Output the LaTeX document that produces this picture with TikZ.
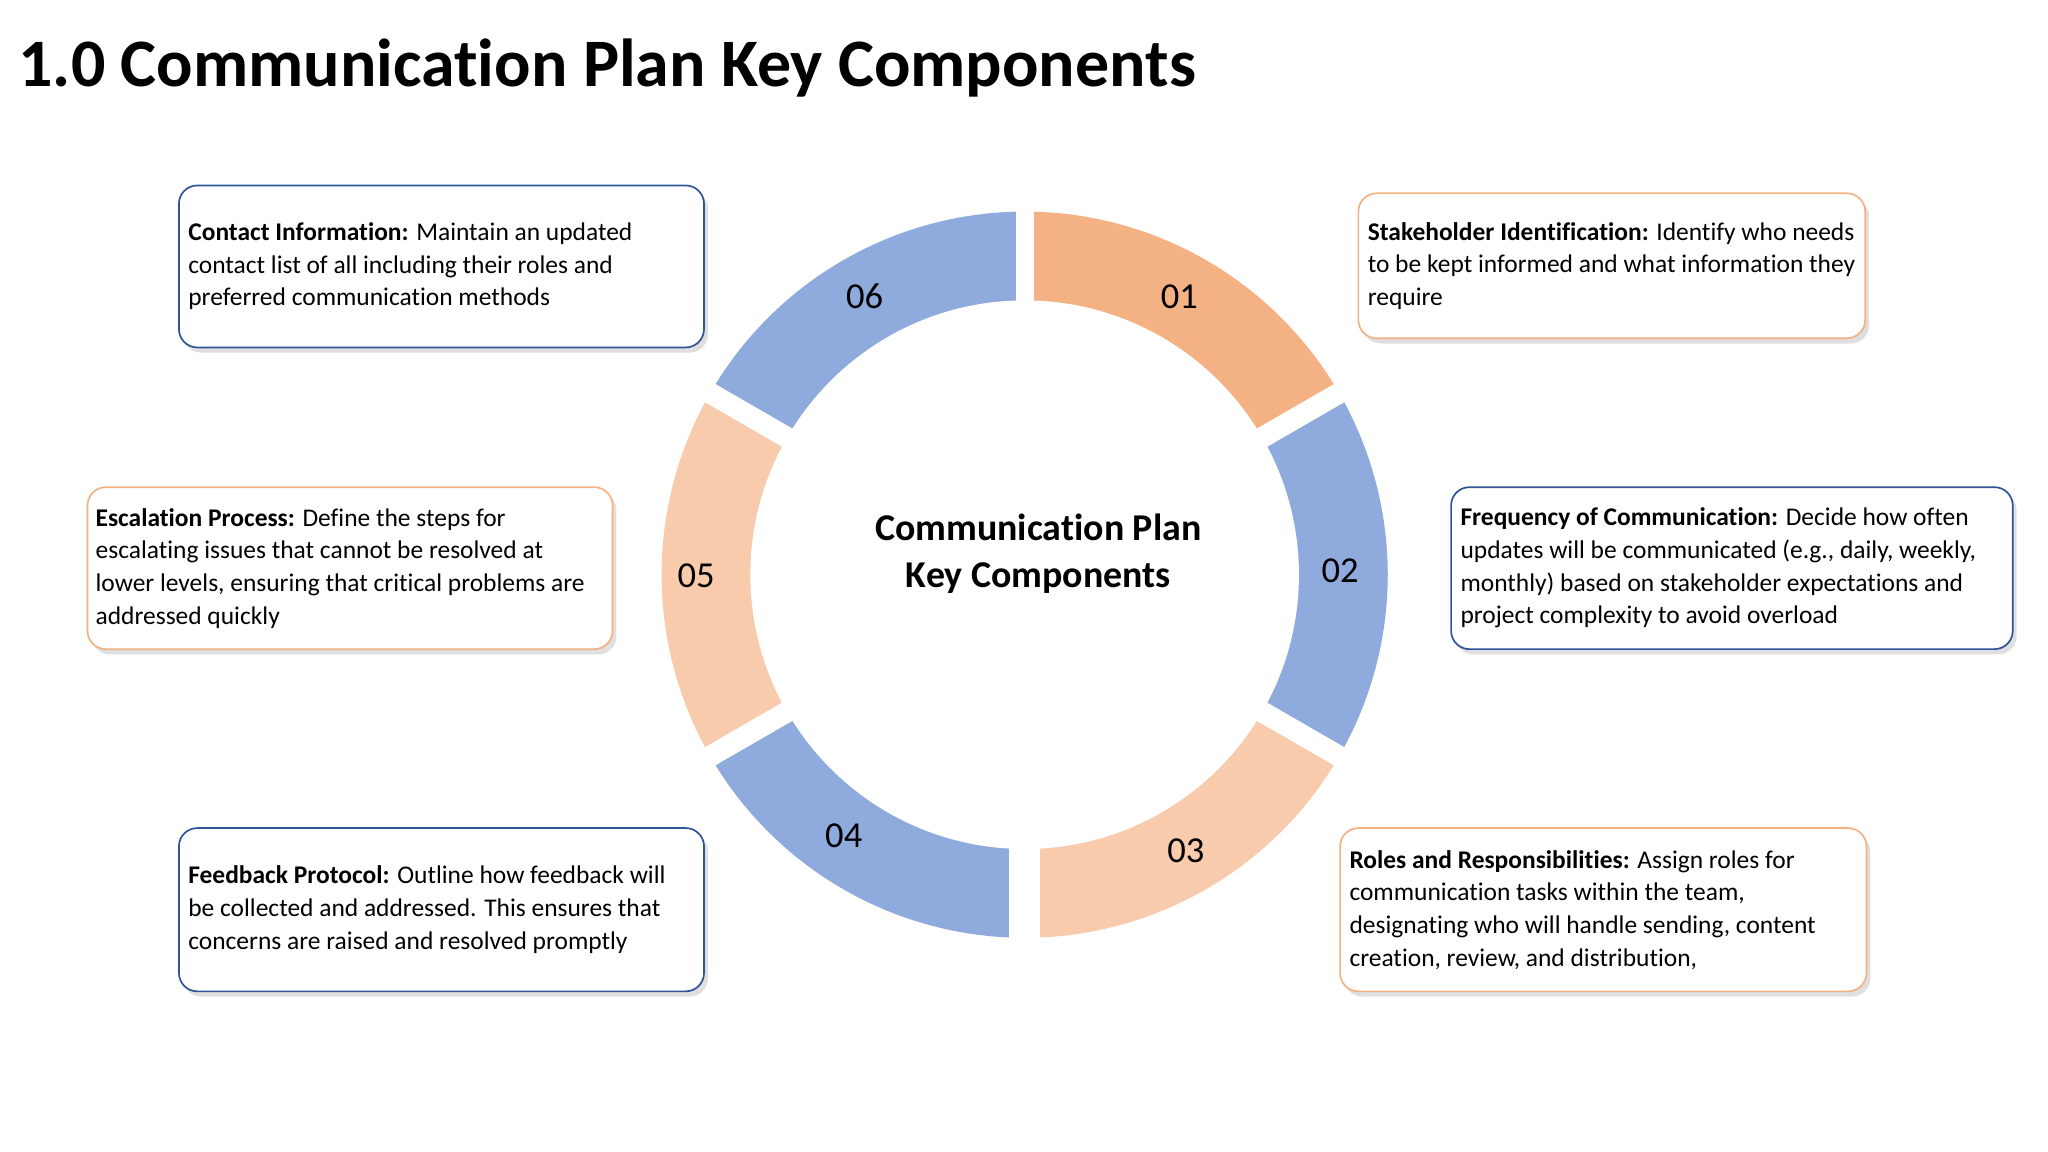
\documentclass[tikz,border=0pt]{standalone}
\usepackage{fontspec}
\setmainfont{Carlito}[Ligatures={NoCommon}]
\usetikzlibrary{shadows}
\definecolor{segO}{HTML}{F4B183}
\definecolor{segL}{HTML}{F8CBAD}
\definecolor{segB}{HTML}{8FAADC}
\definecolor{bdB}{HTML}{2F5597}
\definecolor{bdO}{HTML}{F4B183}
\tikzset{
  infobox/.style={draw, line width=1.3pt, rounded corners=14pt, fill=white,
    drop shadow={shadow xshift=3pt, shadow yshift=-4pt, opacity=0.25},
    minimum height=#1, inner sep=0pt},
  infotext/.style={align=left, font=\fontsize{19.5}{25}\selectfont, inner sep=0pt, anchor=west},
  seglabel/.style={font=\fontsize{28}{30}\selectfont}
}
\begin{document}
\begin{tikzpicture}[x=1pt,y=1pt]
\useasboundingbox (0,0) rectangle (1568,-882);
\node[anchor=base west, inner sep=0pt, font=\fontsize{52}{54}\selectfont\bfseries] (title) at (14,-66) {1.0 Communication Plan Key Components};
% ring
\coordinate (c) at (784.5,-440);
\def\Ro{278}
\foreach \a/\col in {90/segO,30/segB,-30/segL,-90/segB,210/segL,150/segB}{
  \fill[\col] (c) -- ++(\a:\Ro) arc[start angle=\a, end angle=\a-60, radius=\Ro] -- cycle;
}
\foreach \a/\w in {90/14,30/16,-30/16,210/16,150/16}{
  \draw[white, line width=\w pt] (c) -- ++(\a:300);
}
\draw[white, line width=24pt] (c) -- ++(-90:300);
\fill[white] (c) circle (210);
\node[seglabel] (s1) at (903,-227) {01};
\node[seglabel] (s2) at (1026,-437) {02};
\node[seglabel] (s3) at (908,-651) {03};
\node[seglabel] (s4) at (646,-640) {04};
\node[seglabel] (s5) at (533,-441) {05};
\node[seglabel] (s6) at (662,-227) {06};
\node[align=center, font=\fontsize{29}{36}\selectfont\bfseries] (ctr) at (795,-424) {Communication Plan\\Key Components};
% boxes
\node[infobox=124pt, draw=bdB, minimum width=402pt] (b6) at (338,-204) {};
\node[infotext] at (144,-204) {\textbf{Contact Information:} Maintain an updated\\contact list of all including their roles and\\preferred communication methods};
\node[infobox=111pt, draw=bdO, minimum width=388pt] (b1) at (1234,-203.5) {};
\node[infotext] at (1047,-203.5) {\textbf{Stakeholder Identification:} Identify who needs\\to be kept informed and what information they\\require};
\node[infobox=124pt, draw=bdO, minimum width=402pt] (b5) at (268,-435) {};
\node[infotext] at (73,-435) {\textbf{Escalation Process:} Define the steps for\\escalating issues that cannot be resolved at\\lower levels, ensuring that critical problems are\\addressed quickly};
\node[infobox=124pt, draw=bdB, minimum width=430pt] (b2) at (1326,-435) {};
\node[infotext] at (1118,-435) {\textbf{Frequency of Communication:} Decide how often\\updates will be communicated (e.g., daily, weekly,\\monthly) based on stakeholder expectations and\\project complexity to avoid overload};
\node[infobox=125pt, draw=bdB, minimum width=402pt] (b4) at (338,-696.5) {};
\node[infotext] at (144,-696.5) {\textbf{Feedback Protocol:} Outline how feedback will\\be collected and addressed. This ensures that\\concerns are raised and resolved promptly};
\node[infobox=125pt, draw=bdO, minimum width=403pt] (b3) at (1227.5,-696.5) {};
\node[infotext] at (1033,-696.5) {\textbf{Roles and Responsibilities:} Assign roles for\\communication tasks within the team,\\designating who will handle sending, content\\creation, review, and distribution,};
\end{tikzpicture}
\end{document}
